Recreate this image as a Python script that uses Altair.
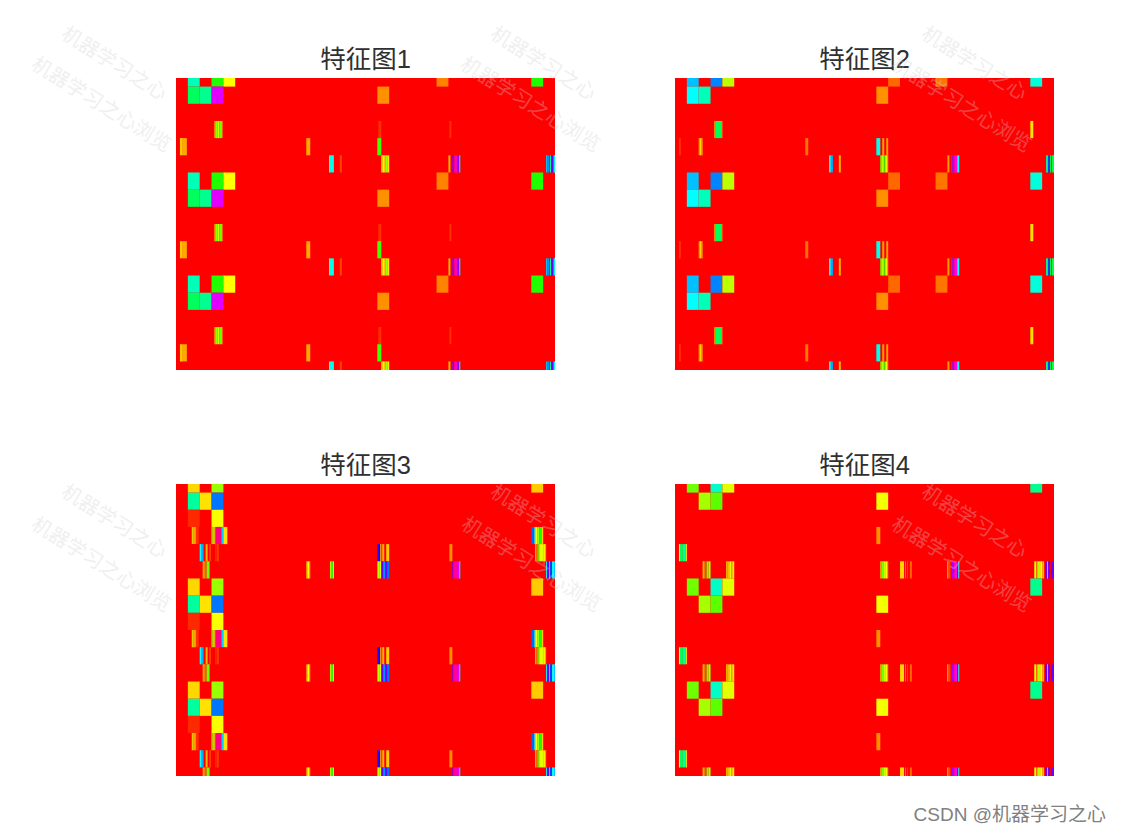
import altair as alt
import pandas as pd

# Each pattern row: list of (start, end, hue) along a 384-step feature axis.
# hue is the position on the circular colour map (0 = red).
P1_ROWS = [
    [(12,24,.42),(36,48,.33),(48,60,.167),(264,276,.06),(360,372,.33)],
    [(12,24,.36),(24,36,.39),(36,48,.8),(204,216,.07)],
    [],
    [(39,40,.15),(40,42,.28),(42,44,.22),(44,46,.3),(46,47,.2),(205,208,.01),(277,279,.01)],
    [(4,5,.13),(5,6,.25),(6,7,.1),(7,11,.09),(132,136,.09),(204,208,.32)],
    [(155,156,.3),(156,160,.46),(166,168,.02),(208,209,.14),(209,211,.2),(211,212,.16),(212,214,.27),(214,216,.14),
     (276,278,.1),(280,282,.72),(282,285,.88),(285,287,.72),(287,288,.5),
     (375,376,.55),(376,378,.6),(378,379,.75),(379,380,.4),(380,382,.7),(382,383,.6),(383,384,.5)],
]
P2_ROWS = [
    [(12,24,.56),(36,48,.61),(48,60,.24),(216,228,.04),(264,276,.05),(360,372,.45)],
    [(12,24,.5),(24,36,.42),(204,216,.07)],
    [],
    [(40,41,.2),(41,47,.36),(47,48,.1),(360,363,.14)],
    [(4,6,.01),(24,25,.1),(25,27,.13),(27,28,.08),(132,135,.05),(204,208,.47),(210,212,.08),(214,216,.08)],
    [(156,158,.52),(158,160,.58),(166,168,.1),(208,209,.3),(209,211,.25),(211,212,.2),(212,213,.33),(213,215,.2),(215,216,.1),
     (276,278,.08),(280,281,.62),(281,283,.75),(283,286,.85),(286,288,.5),
     (376,377,.4),(377,378,.33),(378,380,.65),(380,381,.35),(381,382,.62),(382,384,.35)],
]
P3_ROWS = [
    [(12,24,.13),(36,48,.27),(360,372,.12)],
    [(12,24,.4),(24,36,.14),(36,48,.62)],
    [(12,24,.008),(36,48,.175)],
    [(16,17,.15),(17,18,.3),(18,19,.1),(19,20,.15),(20,23,.01),(36,37,.15),(37,39,.3),(39,40,.15),(40,46,.92),(46,48,.55),(48,52,.14),
     (360,363,.63),(363,364,.5),(364,366,.17),(366,368,.27),(368,371,.33),(371,372,.15)],
    [(24,26,.5),(26,28,.58),(30,32,.1),(34,35,.05),(40,41,.02),(42,43,.04),
     (204,207,.67),(207,208,.12),(208,209,.02),(209,211,.1),(213,216,.12),(277,280,.07),
     (364,365,.25),(365,367,.05),(367,368,.3),(368,372,.2),(372,374,.15),(374,375,.1)],
    [(27,28,.08),(28,29,.2),(29,31,.03),(31,34,.3),(132,133,.1),(133,135,.17),(135,136,.1),(156,157,.25),(157,159,.33),(159,160,.15),
     (204,206,.25),(206,208,.2),(208,210,.7),(210,212,.6),(212,214,.7),(214,216,.62),
     (280,281,.7),(281,285,.9),(285,287,.8),(287,288,.5),
     (375,376,.5),(376,378,.7),(378,379,.4),(379,381,.65),(381,383,.5),(383,384,.55)],
]
P4_ROWS = [
    [(12,24,.3),(36,48,.43),(48,60,.2),(360,372,.39)],
    [(24,36,.26),(36,48,.31),(204,216,.18)],
    [],
    [(204,208,.07)],
    [(4,5,.2),(5,8,.36),(8,11,.4),(11,12,.2)],
    [(28,29,.12),(29,30,.22),(30,32,.02),(32,34,.3),(34,36,.25),(52,53,.2),(53,55,.1),(55,57,.2),(57,58,.3),(58,60,.15),
     (208,209,.13),(209,211,.3),(211,213,.22),(213,215,.17),(215,216,.3),(228,232,.13),(233,234,.05),(235,236,.02),(238,240,.04),
     (276,277,.15),(277,279,.02),(280,283,.75),(283,286,.85),(286,287,.7),(287,288,.5),
     (364,366,.2),(366,367,.05),(367,370,.25),(370,372,.17),(372,374,.1),(375,377,.7),(377,378,.3),(378,380,.7),(381,384,.7)],
]
TITLES = ["特征图1", "特征图2", "特征图3", "特征图4"]
MARK_SHORT = "机器学习之心"
MARK_LONG = "机器学习之心浏览"
CREDIT = "CSDN @机器学习之心"
N_ROWS = 18
PANEL_W, PANEL_H = 379, 292
FONT = "Liberation Sans, Noto Sans CJK SC"

HUE_STOPS = [0, 1/6, 2/6, 3/6, 4/6, 5/6, 1]
HUE_COLORS = ["#ff0000", "#ffff00", "#00ff00", "#00ffff", "#0000ff", "#ff00ff", "#ff0000"]


def frame(rows):
    recs = [{"x0": 0, "x1": 384, "r0": 0, "r1": N_ROWS, "h": 0}]
    for r in range(N_ROWS):
        for s, e, h in rows[r % len(rows)]:
            recs.append({"x0": s, "x1": e, "r0": r, "r1": r + 1, "h": h})
    return pd.DataFrame(recs)


def label(text, dx, dy, **style):
    return alt.Chart(pd.DataFrame({"t": [text]})).mark_text(**style).encode(
        text="t:N", x=alt.value(dx), y=alt.value(dy))


def watermark(text, dx, dy):
    return label(text, dx, dy, font=FONT, fontSize=20, angle=32, color="#d0d0d0",
                 opacity=0.32, align="center", baseline="middle")


def panel(rows, title, marks, extra=None):
    heat = alt.Chart(frame(rows)).mark_rect(clip=True, stroke=None).encode(
        x=alt.X("x0:Q", axis=None, scale=alt.Scale(domain=[0, 384], nice=False, zero=False)),
        x2="x1:Q",
        y=alt.Y("r0:Q", axis=None, scale=alt.Scale(domain=[17.5, 0.5], nice=False, zero=False)),
        y2="r1:Q",
        color=alt.Color("h:Q", legend=None,
                        scale=alt.Scale(domain=HUE_STOPS, range=HUE_COLORS)),
    )
    head = label(title, 189.5, -10, font=FONT, fontSize=25.5, fontWeight="normal",
                 color="#303030", align="center", baseline="alphabetic")
    layers = [heat, head] + [watermark(*m) for m in marks]
    if extra is not None:
        layers.append(extra)
    return alt.layer(*layers).properties(width=PANEL_W, height=PANEL_H)


credit = label(CREDIT, 431, 331, font=FONT, fontSize=19, color="#808080",
               align="right", baseline="middle")

p1 = panel(P1_ROWS, TITLES[0], [(MARK_SHORT, -62, -14), (MARK_LONG, -75, 27), (MARK_SHORT, 367, -14), (MARK_LONG, 354, 27)])
p2 = panel(P2_ROWS, TITLES[1], [(MARK_SHORT, 299, -14), (MARK_LONG, 286, 27)])
p3 = panel(P3_ROWS, TITLES[2], [(MARK_SHORT, -62, 38), (MARK_LONG, -75, 81), (MARK_SHORT, 367, 38), (MARK_LONG, 355, 81)])
p4 = panel(P4_ROWS, TITLES[3], [(MARK_SHORT, 299, 38), (MARK_LONG, 286, 81)], credit)

chart = alt.concat(p1, p2, p3, p4, columns=2, spacing={"row": 114, "column": 120},
                   bounds="flush", padding={"left": 19, "top": 15, "right": 0, "bottom": 0}).configure_view(stroke=None)

chart.save("out.html", embed_options={"renderer": "svg", "actions": False})
